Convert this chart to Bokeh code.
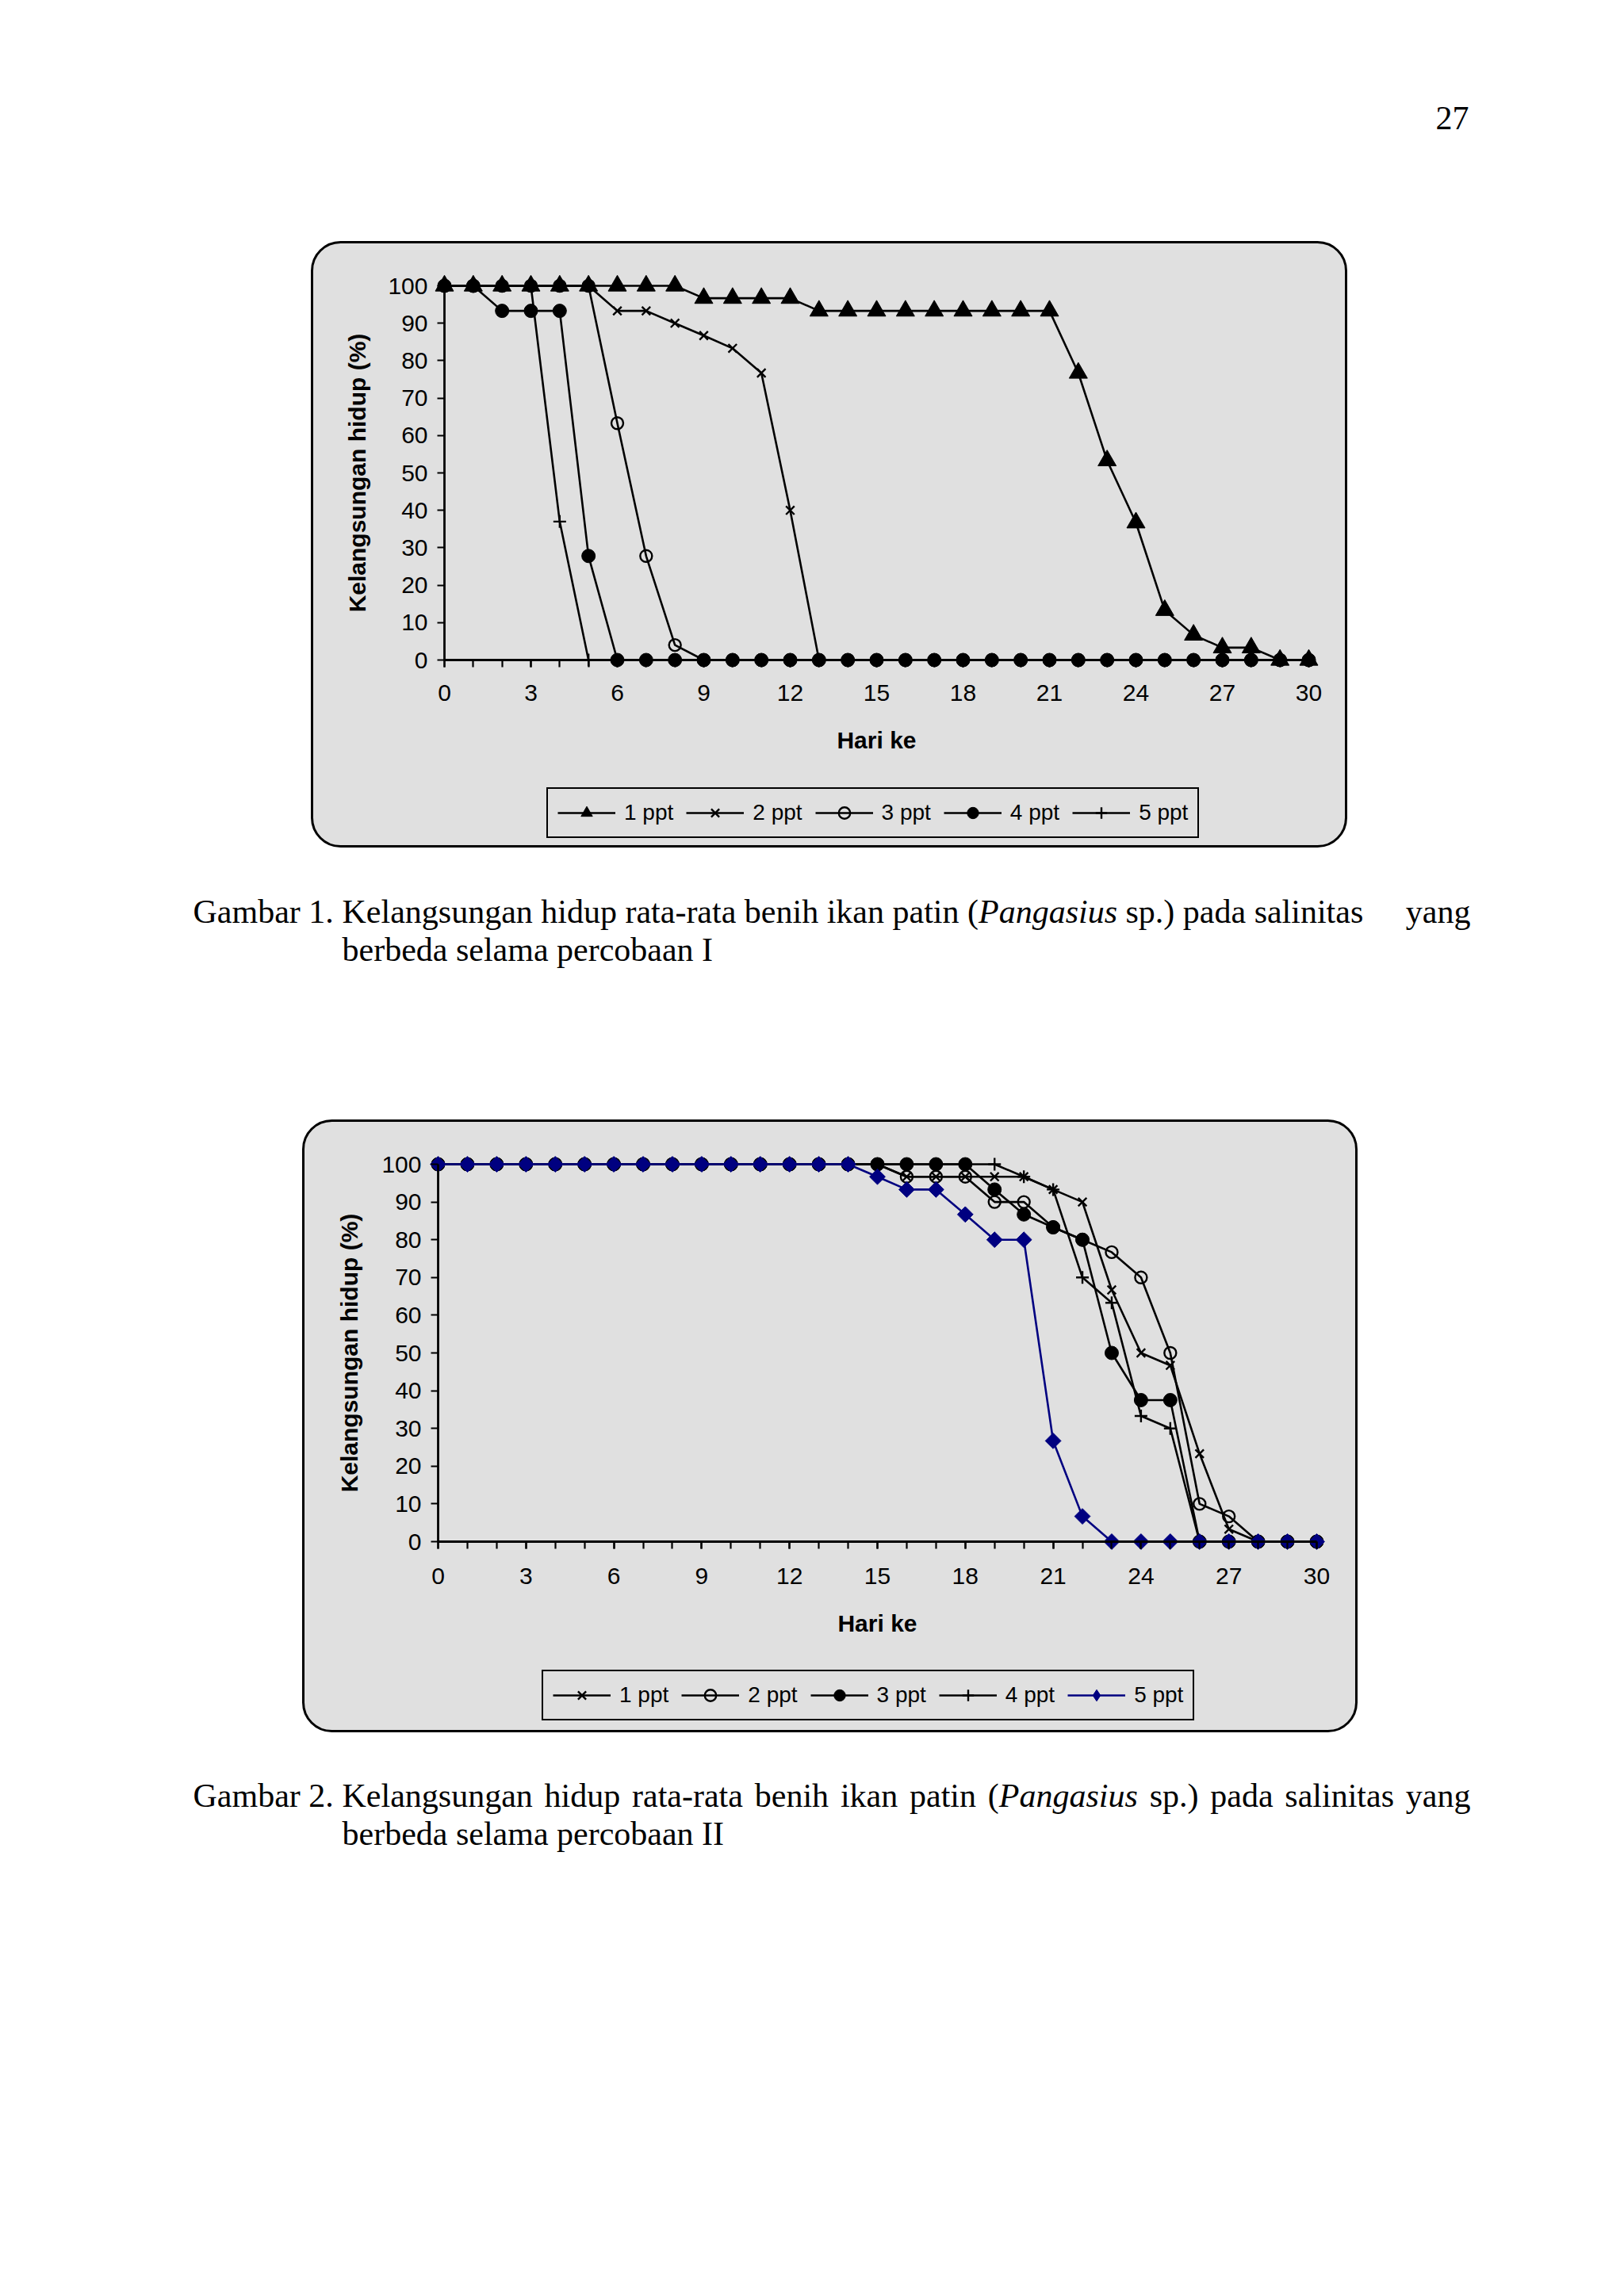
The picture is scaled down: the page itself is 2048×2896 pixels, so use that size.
import math
from bokeh.plotting import figure
from bokeh.models import Range1d, LinearAxis, FixedTicker, BoxAnnotation, Legend, LegendItem
from bokeh.core.properties import value
from bokeh.embed import file_html
from bokeh.resources import INLINE

# ---------------- data ----------------
days = [0, 1, 2, 3, 4, 5, 6, 7, 8, 9, 10, 11, 12, 13, 14, 15, 16, 17, 18, 19, 20,
        21, 22, 23, 24, 25, 26, 27, 28, 29, 30]
day_ticks = [0, 3, 6, 9, 12, 15, 18, 21, 24, 27, 30]
pct_ticks = [0, 10, 20, 30, 40, 50, 60, 70, 80, 90, 100]
series_labels = ["1 ppt", "2 ppt", "3 ppt", "4 ppt", "5 ppt"]

# Percobaan I
exp1_1ppt = [100, 100, 100, 100, 100, 100, 100, 100, 100, 96.7, 96.7, 96.7, 96.7,
             93.3, 93.3, 93.3, 93.3, 93.3, 93.3, 93.3, 93.3, 93.3,
             76.7, 53.3, 36.7, 13.3, 6.7, 3.3, 3.3, 0, 0]
exp1_2ppt = [100, 100, 100, 100, 100, 100, 93.3, 93.3, 90, 86.7, 83.3, 76.7, 40,
             0, 0, 0, 0, 0, 0, 0, 0, 0, 0, 0, 0, 0, 0, 0, 0, 0, 0]
exp1_3ppt = [100, 100, 100, 100, 100, 100, 63.3, 27.8, 4,
             0, 0, 0, 0, 0, 0, 0, 0, 0, 0, 0, 0, 0, 0, 0, 0, 0, 0, 0, 0, 0, 0]
exp1_4ppt = [100, 100, 93.3, 93.3, 93.3, 27.8,
             0, 0, 0, 0, 0, 0, 0, 0, 0, 0, 0, 0, 0, 0, 0, 0, 0, 0, 0, 0, 0, 0, 0, 0, 0]
exp1_5ppt = [100, 100, 100, 100, 37,
             0, 0, 0, 0, 0, 0, 0, 0, 0, 0, 0, 0, 0, 0, 0, 0, 0, 0, 0, 0, 0, 0, 0, 0, 0, 0]

# Percobaan II
exp2_1ppt = [100, 100, 100, 100, 100, 100, 100, 100, 100, 100, 100, 100, 100, 100, 100, 100,
             96.7, 96.7, 96.7, 96.7, 96.7, 93.3, 90, 66.7, 50, 46.7, 23.3, 3.3, 0, 0, 0]
exp2_2ppt = [100, 100, 100, 100, 100, 100, 100, 100, 100, 100, 100, 100, 100, 100, 100, 100,
             96.7, 96.7, 96.7, 90, 90, 83.3, 80, 76.7, 70, 50, 10, 6.7, 0, 0, 0]
exp2_3ppt = [100, 100, 100, 100, 100, 100, 100, 100, 100, 100, 100, 100, 100, 100, 100, 100,
             100, 100, 100, 93.3, 86.7, 83.3, 80, 50, 37.5, 37.5, 0, 0, 0, 0, 0]
exp2_4ppt = [100, 100, 100, 100, 100, 100, 100, 100, 100, 100, 100, 100, 100, 100, 100, 100,
             100, 100, 100, 100, 96.7, 93.3, 70, 63.3, 33.3, 30, 0, 0, 0, 0, 0]
exp2_5ppt = [100, 100, 100, 100, 100, 100, 100, 100, 100, 100, 100, 100, 100, 100, 100,
             96.7, 93.3, 93.3, 86.7, 80, 80, 26.7, 6.7, 0, 0, 0, 0, 0, 0, 0, 0]

x_title = "Hari ke"
y_title = "Kelangsungan hidup (%)"
page_number = "27"
cap1_head = "Gambar 1."
cap2_head = "Gambar 2."
cap_line1 = [[("Kelangsungan", False)], [("hidup", False)], [("rata-rata", False)],
             [("benih", False)], [("ikan", False)], [("patin", False)],
             [("(", False), ("Pangasius", True)], [("sp.)", False)], [("pada", False)],
             [("salinitas", False)]]
cap_last_word = [("yang", False)]
cap1_line2 = "berbeda selama percobaan I"
cap2_line2 = "berbeda selama percobaan II"

# ---------------- page / layout ----------------
W, H = 2032, 2880
GRAY = "#e0e0e0"
NAVY = "#000080"
SANS = "Liberation Sans"
SERIF = "Liberation Serif"

# data coordinates of the page: x = page px, y = 2896 - page px
p = figure(width=W, height=H, x_range=Range1d(0, W), y_range=Range1d(2896 - H, 2896),
           x_axis_type=None, y_axis_type=None, title=None, toolbar_location=None,
           output_backend="svg", min_border=0, outline_line_color=None)
p.background_fill_color = "white"
p.border_fill_color = "white"


def Y(page_y):
    return 2896 - page_y


def lin_range(lo, hi, pa, va, pb, vb):
    s = (vb - va) / (pb - pa)
    return Range1d(va + (lo - pa) * s, va + (hi - pa) * s)


# chart 1 anchors (page px): day0 -> 560, day30 -> 1650 ; 0% -> 832, 100% -> 360
# chart 2 anchors: day0 -> 552, day30 -> 1660 ; 0% -> 1944, 100% -> 1468
p.extra_x_ranges = {
    "c1x": lin_range(0, W, 560, 0, 1650, 30),
    "c2x": lin_range(0, W, 552, 0, 1660, 30),
}
p.extra_y_ranges = {
    "c1y": lin_range(2896 - H, 2896, Y(832), 0, Y(360), 100),
    "c2y": lin_range(2896 - H, 2896, Y(1944), 0, Y(1468), 100),
}

# rounded chart boxes
for (l, t, r, b) in [(393, 305, 1697, 1067), (382, 1413, 1710, 2183)]:
    box = BoxAnnotation(left=l, right=r, top=Y(t), bottom=Y(b), border_radius=36,
                        fill_color=GRAY, fill_alpha=1, line_color="black", line_alpha=1,
                        line_width=3, level="underlay")
    p.add_layout(box)


def add_axes(xr, yr, x_lab_standoff, x_title_standoff, y_title_standoff):
    xa = LinearAxis(x_range_name=xr, y_range_name=yr, fixed_location=0, bounds=(0, 30),
                    ticker=FixedTicker(ticks=day_ticks, minor_ticks=days))
    ya = LinearAxis(x_range_name=xr, y_range_name=yr, fixed_location=0, bounds=(0, 100),
                    ticker=FixedTicker(ticks=pct_ticks, minor_ticks=[]))
    for ax in (xa, ya):
        ax.axis_line_color = "black"
        ax.axis_line_width = 2.8
        ax.major_tick_line_color = "black"
        ax.major_tick_line_width = 2.2
        ax.major_tick_out = 9
        ax.major_tick_in = 0
        ax.major_label_text_font = SANS
        ax.major_label_text_font_size = "30px"
        ax.major_label_text_color = "black"
        ax.axis_label_text_font = SANS
        ax.axis_label_text_font_size = "30px"
        ax.axis_label_text_font_style = "bold"
        ax.axis_label_text_color = "black"
    xa.minor_tick_line_color = "black"
    xa.minor_tick_line_width = 2.2
    xa.minor_tick_out = 9
    xa.minor_tick_in = 0
    xa.major_label_standoff = x_lab_standoff
    xa.axis_label = x_title
    xa.axis_label_standoff = x_title_standoff
    ya.minor_tick_line_color = None
    ya.major_label_standoff = 12
    ya.axis_label = y_title
    ya.axis_label_standoff = y_title_standoff
    p.add_layout(xa, "below")
    p.add_layout(ya, "left")


add_axes("c1x", "c1y", 22, 30, 19)
add_axes("c2x", "c2y", 24, 30, 21)

DIAMOND_ANGLE = math.pi / 4
styles1 = [
    dict(marker="triangle", size=23, fill_color="black", line_color="black", line_width=1),
    dict(marker="x", size=15, fill_color=None, line_color="black", line_width=2.4),
    dict(marker="circle", size=15, fill_color=None, line_color="black", line_width=2.4),
    dict(marker="circle", size=17, fill_color="black", line_color="black", line_width=1),
    dict(marker="cross", size=16, fill_color=None, line_color="black", line_width=2.4),
]
styles2 = [
    dict(marker="x", size=15, fill_color=None, line_color="black", line_width=2.4),
    dict(marker="circle", size=15, fill_color=None, line_color="black", line_width=2.4),
    dict(marker="circle", size=17, fill_color="black", line_color="black", line_width=1),
    dict(marker="cross", size=16, fill_color=None, line_color="black", line_width=2.4),
    dict(marker="square", size=14, angle=DIAMOND_ANGLE, fill_color=NAVY,
         line_color=NAVY, line_width=1),
]
line_colors2 = ["black", "black", "black", "black", NAVY]
NAN = float("nan")


def draw_chart(series, styles, lcolors, xr, yr, loc):
    items = []
    for vals, st, lc, lab in zip(series, styles, lcolors, series_labels):
        lr = p.line(days, vals, line_color=lc, line_width=2.6, x_range_name=xr, y_range_name=yr)
        sr = p.scatter(days, vals, x_range_name=xr, y_range_name=yr, **st)
        legend_marker = sr
        if st.get("angle"):
            # legend swatch only: an upright diamond (its single point is NaN, so nothing is drawn)
            legend_marker = p.scatter([NAN], [NAN], marker="diamond", size=20,
                                      fill_color=st["fill_color"], line_color=st["line_color"],
                                      x_range_name=xr, y_range_name=yr)
        items.append(LegendItem(label=lab, renderers=[lr, legend_marker]))
    leg = Legend(items=items, orientation="horizontal", location=loc, margin=0,
                 label_text_font=SANS, label_text_font_size="28px", label_text_color="black",
                 glyph_width=73, glyph_height=36, label_height=36, label_standoff=11,
                 spacing=16, padding=12, border_line_color="black", border_line_alpha=1,
                 border_line_width=2.8, background_fill_color=GRAY, background_fill_alpha=1)
    p.add_layout(leg, "center")


draw_chart([exp1_1ppt, exp1_2ppt, exp1_3ppt, exp1_4ppt, exp1_5ppt], styles1,
           ["black"] * 5, "c1x", "c1y", (689, H - 1057))
draw_chart([exp2_1ppt, exp2_2ppt, exp2_3ppt, exp2_4ppt, exp2_5ppt], styles2,
           line_colors2, "c2x", "c2y", (683, H - 2170))

# ---------------- captions ----------------
FS = 42
ROMAN = {' ': 250, 'a': 444, 'b': 500, 'c': 444, 'd': 500, 'e': 444, 'f': 333, 'g': 500,
         'h': 500, 'i': 278, 'j': 278, 'k': 500, 'l': 278, 'm': 778, 'n': 500, 'o': 500,
         'p': 500, 'q': 500, 'r': 333, 's': 389, 't': 278, 'u': 500, 'v': 500, 'w': 722,
         'x': 500, 'y': 500, 'z': 444, 'G': 722, 'K': 722, 'P': 556, 'I': 333, '(': 333,
         ')': 333, '.': 250, '-': 333}
ITAL = {'P': 611, 'a': 500, 'n': 500, 'g': 500, 's': 389, 'i': 278, 'u': 500}


def seg_w(text, italic):
    tb = ITAL if italic else ROMAN
    return sum(tb.get(c, 500) for c in text) * FS / 1000.0


def tok_w(tok):
    return sum(seg_w(t, it) for t, it in tok)


rx, ry, rt = [], [], []
ix, iy, it_ = [], [], []


def put_token(tok, x, y):
    for t, ital in tok:
        if ital:
            ix.append(x); iy.append(y); it_.append(t)
        else:
            rx.append(x); ry.append(y); rt.append(t)
        x += seg_w(t, ital)


def put_tokens(tokens, x0, gap, y):
    x = x0
    for tok in tokens:
        put_token(tok, x, y)
        x += tok_w(tok) + gap


TX0, TX1 = 431, 1854
# caption 1
y = Y(1149)
put_token([(cap1_head, False)], 243, y)
put_tokens(cap_line1, TX0, FS * 0.25, y)
put_token(cap_last_word, TX1 - tok_w(cap_last_word), y)
put_token([(cap1_line2, False)], TX0, Y(1197))
# caption 2 (justified)
y = Y(2264)
put_token([(cap2_head, False)], 243, y)
toks = cap_line1 + [cap_last_word]
gap = (TX1 - TX0 - sum(tok_w(t) for t in toks)) / (len(toks) - 1)
put_tokens(toks, TX0, gap, y)
put_token([(cap2_line2, False)], TX0, Y(2312))

p.text(rx, ry, text=rt, text_font=value(SERIF), text_font_size=f"{FS}px",
       text_baseline="middle", text_align="left", text_color="black")
p.text(ix, iy, text=it_, text_font=value(SERIF), text_font_size=f"{FS}px",
       text_font_style="italic", text_baseline="middle", text_align="left", text_color="black")
p.text([1852], [Y(148)], text=[page_number], text_font=value(SERIF), text_font_size=f"{FS}px",
       text_baseline="middle", text_align="right", text_color="black")

open("out.html", "w").write(file_html(p, INLINE))
